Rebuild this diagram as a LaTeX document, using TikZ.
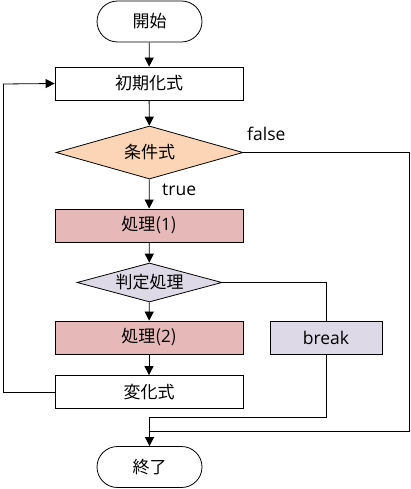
\documentclass[tikz,border=0pt]{standalone}
\usepackage{fontspec}
\setmainfont{Noto Sans CJK JP}
\newfontfamily\latfont{Open Sans}
\usetikzlibrary{shapes.geometric,shapes.misc,arrows.meta}
\definecolor{peach}{HTML}{FBD5B5}
\definecolor{pinkbox}{HTML}{E6B9B8}
\definecolor{lav}{HTML}{DDD9E6}
\begin{document}
\begin{tikzpicture}[x=1pt,y=-1pt,
  every node/.style={font=\fontsize{17}{19}\selectfont, inner sep=0pt},
  lat/.style={font=\latfont\fontsize{17.5}{19}\selectfont},
  box/.style={draw, line width=0.8pt, minimum width=188pt, minimum height=33pt},
  term/.style={draw, line width=0.8pt, rounded rectangle, minimum width=105pt, minimum height=41pt},
  dia/.style={draw, line width=0.8pt, diamond, aspect=3.5},
  conn/.style={line width=0.8pt},
  arr/.style={line width=0.8pt, -{Triangle[length=9pt,width=9pt]}}]
\useasboundingbox (0,0) rectangle (411,489);
\node[term] (start) at (149.5,21.5) {開始};
\node[box] (init) at (149,83.5) {初期化式};
\node[dia, fill=peach, minimum width=187pt, minimum height=53pt] (cond) at (149.5,152.5) {};
\node at (cond.center) {条件式};
\node[box, fill=pinkbox] (p1) at (149,225.5) {処理({\latfont 1})};
\node[dia, fill=lav, minimum width=145pt, minimum height=39pt] (judge) at (149.5,282.5) {};
\node at (judge.center) {判定処理};
\node[box, fill=pinkbox] (p2) at (149,337.5) {処理({\latfont 2})};
\node[draw, line width=0.8pt, fill=lav, minimum width=112pt, minimum height=33pt, lat] (brk) at (326,337.5) {break};
\node[box] (chg) at (149,392) {変化式};
\node[term] (end) at (149.5,467) {終了};
\node[anchor=base west, lat] (flab) at (247,141) {false};
\node[anchor=base west, lat] (tlab) at (162,195) {true};
\coordinate (fr) at (409,152.5);
\coordinate (fb) at (409,431);
\coordinate (fj) at (149.5,431);
\coordinate (bj) at (149.5,417);
\coordinate (lb) at (3,392);
\coordinate (lt) at (3,84);
\draw[arr] (start) -- (init);
\draw[arr] (init) -- (cond);
\draw[arr] (cond) -- (p1);
\draw[arr] (p1) -- (judge);
\draw[arr] (judge) -- (p2);
\draw[arr] (p2) -- (chg);
\draw[conn] (judge.east) -| (brk.north);
\draw[conn] (brk.south) |- (bj);
\draw[conn] (cond.east) -- (fr) -- (fb) -- (fj);
\draw[arr] (bj) -- (end.north);
\draw[conn] (chg.west) -- (lb) -- (lt);
\draw[arr] (lt) -- (init.west);
\end{tikzpicture}
\end{document}
